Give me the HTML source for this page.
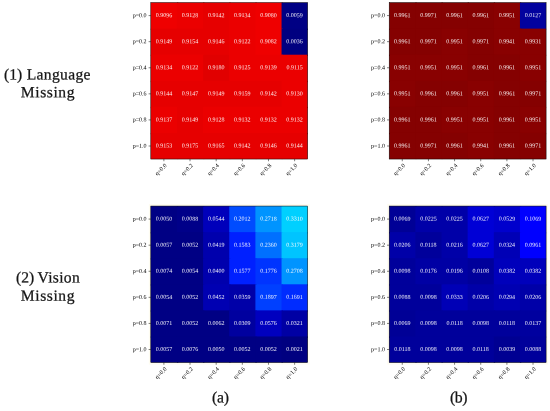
<!DOCTYPE html>
<html><head><meta charset="utf-8"><title>figure</title>
<style>
html,body{margin:0;padding:0;background:#fff;}
svg{display:block;}
svg text{font-family:"Liberation Serif","DejaVu Serif",serif;text-rendering:geometricPrecision;}
</style></head>
<body>
<svg width="550" height="411" viewBox="0 0 550 411" font-family="'Liberation Serif','DejaVu Serif',serif" font-size="6.0">
<rect x="0" y="0" width="550" height="411" fill="#fff"/>
<g>
<rect x="150.80" y="2.55" width="27.45" height="27.38" fill="#ef0000"/>
<rect x="176.95" y="2.55" width="27.45" height="27.38" fill="#eb0000"/>
<rect x="203.10" y="2.55" width="27.45" height="27.38" fill="#e60000"/>
<rect x="229.25" y="2.55" width="27.45" height="27.38" fill="#eb0000"/>
<rect x="255.40" y="2.55" width="27.45" height="27.38" fill="#ef0000"/>
<rect x="281.55" y="2.55" width="26.15" height="27.38" fill="#000084"/>
<rect x="150.80" y="28.63" width="27.45" height="27.38" fill="#e60000"/>
<rect x="176.95" y="28.63" width="27.45" height="27.38" fill="#e60000"/>
<rect x="203.10" y="28.63" width="27.45" height="27.38" fill="#e60000"/>
<rect x="229.25" y="28.63" width="27.45" height="27.38" fill="#eb0000"/>
<rect x="255.40" y="28.63" width="27.45" height="27.38" fill="#ef0000"/>
<rect x="281.55" y="28.63" width="26.15" height="27.38" fill="#000080"/>
<rect x="150.80" y="54.72" width="27.45" height="27.38" fill="#eb0000"/>
<rect x="176.95" y="54.72" width="27.45" height="27.38" fill="#eb0000"/>
<rect x="203.10" y="54.72" width="27.45" height="27.38" fill="#e10000"/>
<rect x="229.25" y="54.72" width="27.45" height="27.38" fill="#eb0000"/>
<rect x="255.40" y="54.72" width="27.45" height="27.38" fill="#eb0000"/>
<rect x="281.55" y="54.72" width="26.15" height="27.38" fill="#eb0000"/>
<rect x="150.80" y="80.80" width="27.45" height="27.38" fill="#e60000"/>
<rect x="176.95" y="80.80" width="27.45" height="27.38" fill="#e60000"/>
<rect x="203.10" y="80.80" width="27.45" height="27.38" fill="#e60000"/>
<rect x="229.25" y="80.80" width="27.45" height="27.38" fill="#e60000"/>
<rect x="255.40" y="80.80" width="27.45" height="27.38" fill="#e60000"/>
<rect x="281.55" y="80.80" width="26.15" height="27.38" fill="#eb0000"/>
<rect x="150.80" y="106.88" width="27.45" height="27.38" fill="#eb0000"/>
<rect x="176.95" y="106.88" width="27.45" height="27.38" fill="#e60000"/>
<rect x="203.10" y="106.88" width="27.45" height="27.38" fill="#eb0000"/>
<rect x="229.25" y="106.88" width="27.45" height="27.38" fill="#eb0000"/>
<rect x="255.40" y="106.88" width="27.45" height="27.38" fill="#eb0000"/>
<rect x="281.55" y="106.88" width="26.15" height="27.38" fill="#eb0000"/>
<rect x="150.80" y="132.97" width="27.45" height="26.08" fill="#e60000"/>
<rect x="176.95" y="132.97" width="27.45" height="26.08" fill="#e60000"/>
<rect x="203.10" y="132.97" width="27.45" height="26.08" fill="#e60000"/>
<rect x="229.25" y="132.97" width="27.45" height="26.08" fill="#e60000"/>
<rect x="255.40" y="132.97" width="27.45" height="26.08" fill="#e60000"/>
<rect x="281.55" y="132.97" width="26.15" height="26.08" fill="#e60000"/>
<rect x="150.80" y="2.55" width="156.90" height="156.50" fill="none" stroke="#000" stroke-width="0.5"/>
<line x1="148.60" y1="15.59" x2="150.80" y2="15.59" stroke="#000" stroke-width="0.5"/>
<line x1="163.88" y1="159.05" x2="163.88" y2="161.25" stroke="#000" stroke-width="0.5"/>
<line x1="148.60" y1="41.67" x2="150.80" y2="41.67" stroke="#000" stroke-width="0.5"/>
<line x1="190.03" y1="159.05" x2="190.03" y2="161.25" stroke="#000" stroke-width="0.5"/>
<line x1="148.60" y1="67.76" x2="150.80" y2="67.76" stroke="#000" stroke-width="0.5"/>
<line x1="216.18" y1="159.05" x2="216.18" y2="161.25" stroke="#000" stroke-width="0.5"/>
<line x1="148.60" y1="93.84" x2="150.80" y2="93.84" stroke="#000" stroke-width="0.5"/>
<line x1="242.33" y1="159.05" x2="242.33" y2="161.25" stroke="#000" stroke-width="0.5"/>
<line x1="148.60" y1="119.92" x2="150.80" y2="119.92" stroke="#000" stroke-width="0.5"/>
<line x1="268.48" y1="159.05" x2="268.48" y2="161.25" stroke="#000" stroke-width="0.5"/>
<line x1="148.60" y1="146.01" x2="150.80" y2="146.01" stroke="#000" stroke-width="0.5"/>
<line x1="294.62" y1="159.05" x2="294.62" y2="161.25" stroke="#000" stroke-width="0.5"/>
<g fill="#fff" fill-opacity=".92" text-anchor="middle">
<text transform="rotate(.03 163.88 17.14)" x="163.88" y="17.14">0.9096</text>
<text transform="rotate(.03 190.03 17.14)" x="190.03" y="17.14">0.9128</text>
<text transform="rotate(.03 216.18 17.14)" x="216.18" y="17.14">0.9142</text>
<text transform="rotate(.03 242.33 17.14)" x="242.33" y="17.14">0.9134</text>
<text transform="rotate(.03 268.48 17.14)" x="268.48" y="17.14">0.9080</text>
<text transform="rotate(.03 294.62 17.14)" x="294.62" y="17.14">0.0059</text>
<text transform="rotate(.03 163.88 43.22)" x="163.88" y="43.22">0.9149</text>
<text transform="rotate(.03 190.03 43.22)" x="190.03" y="43.22">0.9154</text>
<text transform="rotate(.03 216.18 43.22)" x="216.18" y="43.22">0.9146</text>
<text transform="rotate(.03 242.33 43.22)" x="242.33" y="43.22">0.9122</text>
<text transform="rotate(.03 268.48 43.22)" x="268.48" y="43.22">0.9082</text>
<text transform="rotate(.03 294.62 43.22)" x="294.62" y="43.22">0.0036</text>
<text transform="rotate(.03 163.88 69.31)" x="163.88" y="69.31">0.9134</text>
<text transform="rotate(.03 190.03 69.31)" x="190.03" y="69.31">0.9122</text>
<text transform="rotate(.03 216.18 69.31)" x="216.18" y="69.31">0.9180</text>
<text transform="rotate(.03 242.33 69.31)" x="242.33" y="69.31">0.9125</text>
<text transform="rotate(.03 268.48 69.31)" x="268.48" y="69.31">0.9139</text>
<text transform="rotate(.03 294.62 69.31)" x="294.62" y="69.31">0.9115</text>
<text transform="rotate(.03 163.88 95.39)" x="163.88" y="95.39">0.9144</text>
<text transform="rotate(.03 190.03 95.39)" x="190.03" y="95.39">0.9147</text>
<text transform="rotate(.03 216.18 95.39)" x="216.18" y="95.39">0.9149</text>
<text transform="rotate(.03 242.33 95.39)" x="242.33" y="95.39">0.9159</text>
<text transform="rotate(.03 268.48 95.39)" x="268.48" y="95.39">0.9142</text>
<text transform="rotate(.03 294.62 95.39)" x="294.62" y="95.39">0.9130</text>
<text transform="rotate(.03 163.88 121.47)" x="163.88" y="121.47">0.9137</text>
<text transform="rotate(.03 190.03 121.47)" x="190.03" y="121.47">0.9149</text>
<text transform="rotate(.03 216.18 121.47)" x="216.18" y="121.47">0.9128</text>
<text transform="rotate(.03 242.33 121.47)" x="242.33" y="121.47">0.9132</text>
<text transform="rotate(.03 268.48 121.47)" x="268.48" y="121.47">0.9132</text>
<text transform="rotate(.03 294.62 121.47)" x="294.62" y="121.47">0.9132</text>
<text transform="rotate(.03 163.88 147.56)" x="163.88" y="147.56">0.9153</text>
<text transform="rotate(.03 190.03 147.56)" x="190.03" y="147.56">0.9175</text>
<text transform="rotate(.03 216.18 147.56)" x="216.18" y="147.56">0.9165</text>
<text transform="rotate(.03 242.33 147.56)" x="242.33" y="147.56">0.9142</text>
<text transform="rotate(.03 268.48 147.56)" x="268.48" y="147.56">0.9146</text>
<text transform="rotate(.03 294.62 147.56)" x="294.62" y="147.56">0.9144</text>
</g>
<g fill="#000" text-anchor="end">
<text transform="rotate(.03 146.60 17.29)" x="146.60" y="17.29">p=0.0</text>
<text transform="rotate(.03 146.60 43.38)" x="146.60" y="43.38">p=0.2</text>
<text transform="rotate(.03 146.60 69.46)" x="146.60" y="69.46">p=0.4</text>
<text transform="rotate(.03 146.60 95.54)" x="146.60" y="95.54">p=0.6</text>
<text transform="rotate(.03 146.60 121.62)" x="146.60" y="121.62">p=0.8</text>
<text transform="rotate(.03 146.60 147.71)" x="146.60" y="147.71">p=1.0</text>
</g>
<g fill="#000" text-anchor="middle">
<text transform="translate(160.82,169.45) rotate(-45)" x="0" y="2">q=0.0</text>
<text transform="translate(186.97,169.45) rotate(-45)" x="0" y="2">q=0.2</text>
<text transform="translate(213.12,169.45) rotate(-45)" x="0" y="2">q=0.4</text>
<text transform="translate(239.28,169.45) rotate(-45)" x="0" y="2">q=0.6</text>
<text transform="translate(265.43,169.45) rotate(-45)" x="0" y="2">q=0.8</text>
<text transform="translate(291.57,169.45) rotate(-45)" x="0" y="2">q=1.0</text>
</g>
</g>
<g>
<rect x="389.20" y="2.55" width="27.45" height="27.38" fill="#850101"/>
<rect x="415.35" y="2.55" width="27.45" height="27.38" fill="#850101"/>
<rect x="441.50" y="2.55" width="27.45" height="27.38" fill="#850101"/>
<rect x="467.65" y="2.55" width="27.45" height="27.38" fill="#850101"/>
<rect x="493.80" y="2.55" width="27.45" height="27.38" fill="#890101"/>
<rect x="519.95" y="2.55" width="26.15" height="27.38" fill="#02029e"/>
<rect x="389.20" y="28.63" width="27.45" height="27.38" fill="#850101"/>
<rect x="415.35" y="28.63" width="27.45" height="27.38" fill="#850101"/>
<rect x="441.50" y="28.63" width="27.45" height="27.38" fill="#890101"/>
<rect x="467.65" y="28.63" width="27.45" height="27.38" fill="#850101"/>
<rect x="493.80" y="28.63" width="27.45" height="27.38" fill="#890101"/>
<rect x="519.95" y="28.63" width="26.15" height="27.38" fill="#890101"/>
<rect x="389.20" y="54.72" width="27.45" height="27.38" fill="#890101"/>
<rect x="415.35" y="54.72" width="27.45" height="27.38" fill="#890101"/>
<rect x="441.50" y="54.72" width="27.45" height="27.38" fill="#890101"/>
<rect x="467.65" y="54.72" width="27.45" height="27.38" fill="#850101"/>
<rect x="493.80" y="54.72" width="27.45" height="27.38" fill="#850101"/>
<rect x="519.95" y="54.72" width="26.15" height="27.38" fill="#890101"/>
<rect x="389.20" y="80.80" width="27.45" height="27.38" fill="#890101"/>
<rect x="415.35" y="80.80" width="27.45" height="27.38" fill="#850101"/>
<rect x="441.50" y="80.80" width="27.45" height="27.38" fill="#850101"/>
<rect x="467.65" y="80.80" width="27.45" height="27.38" fill="#890101"/>
<rect x="493.80" y="80.80" width="27.45" height="27.38" fill="#850101"/>
<rect x="519.95" y="80.80" width="26.15" height="27.38" fill="#850101"/>
<rect x="389.20" y="106.88" width="27.45" height="27.38" fill="#850101"/>
<rect x="415.35" y="106.88" width="27.45" height="27.38" fill="#850101"/>
<rect x="441.50" y="106.88" width="27.45" height="27.38" fill="#890101"/>
<rect x="467.65" y="106.88" width="27.45" height="27.38" fill="#890101"/>
<rect x="493.80" y="106.88" width="27.45" height="27.38" fill="#850101"/>
<rect x="519.95" y="106.88" width="26.15" height="27.38" fill="#890101"/>
<rect x="389.20" y="132.97" width="27.45" height="26.08" fill="#850101"/>
<rect x="415.35" y="132.97" width="27.45" height="26.08" fill="#850101"/>
<rect x="441.50" y="132.97" width="27.45" height="26.08" fill="#850101"/>
<rect x="467.65" y="132.97" width="27.45" height="26.08" fill="#890101"/>
<rect x="493.80" y="132.97" width="27.45" height="26.08" fill="#850101"/>
<rect x="519.95" y="132.97" width="26.15" height="26.08" fill="#850101"/>
<rect x="389.20" y="2.55" width="156.90" height="156.50" fill="none" stroke="#000" stroke-width="0.5"/>
<line x1="387.00" y1="15.59" x2="389.20" y2="15.59" stroke="#000" stroke-width="0.5"/>
<line x1="402.27" y1="159.05" x2="402.27" y2="161.25" stroke="#000" stroke-width="0.5"/>
<line x1="387.00" y1="41.67" x2="389.20" y2="41.67" stroke="#000" stroke-width="0.5"/>
<line x1="428.43" y1="159.05" x2="428.43" y2="161.25" stroke="#000" stroke-width="0.5"/>
<line x1="387.00" y1="67.76" x2="389.20" y2="67.76" stroke="#000" stroke-width="0.5"/>
<line x1="454.57" y1="159.05" x2="454.57" y2="161.25" stroke="#000" stroke-width="0.5"/>
<line x1="387.00" y1="93.84" x2="389.20" y2="93.84" stroke="#000" stroke-width="0.5"/>
<line x1="480.73" y1="159.05" x2="480.73" y2="161.25" stroke="#000" stroke-width="0.5"/>
<line x1="387.00" y1="119.92" x2="389.20" y2="119.92" stroke="#000" stroke-width="0.5"/>
<line x1="506.88" y1="159.05" x2="506.88" y2="161.25" stroke="#000" stroke-width="0.5"/>
<line x1="387.00" y1="146.01" x2="389.20" y2="146.01" stroke="#000" stroke-width="0.5"/>
<line x1="533.02" y1="159.05" x2="533.02" y2="161.25" stroke="#000" stroke-width="0.5"/>
<g fill="#fff" fill-opacity=".92" text-anchor="middle">
<text transform="rotate(.03 402.27 17.14)" x="402.27" y="17.14">0.9961</text>
<text transform="rotate(.03 428.43 17.14)" x="428.43" y="17.14">0.9971</text>
<text transform="rotate(.03 454.57 17.14)" x="454.57" y="17.14">0.9961</text>
<text transform="rotate(.03 480.73 17.14)" x="480.73" y="17.14">0.9961</text>
<text transform="rotate(.03 506.88 17.14)" x="506.88" y="17.14">0.9951</text>
<text transform="rotate(.03 533.02 17.14)" x="533.02" y="17.14">0.0127</text>
<text transform="rotate(.03 402.27 43.22)" x="402.27" y="43.22">0.9961</text>
<text transform="rotate(.03 428.43 43.22)" x="428.43" y="43.22">0.9971</text>
<text transform="rotate(.03 454.57 43.22)" x="454.57" y="43.22">0.9951</text>
<text transform="rotate(.03 480.73 43.22)" x="480.73" y="43.22">0.9971</text>
<text transform="rotate(.03 506.88 43.22)" x="506.88" y="43.22">0.9941</text>
<text transform="rotate(.03 533.02 43.22)" x="533.02" y="43.22">0.9931</text>
<text transform="rotate(.03 402.27 69.31)" x="402.27" y="69.31">0.9951</text>
<text transform="rotate(.03 428.43 69.31)" x="428.43" y="69.31">0.9951</text>
<text transform="rotate(.03 454.57 69.31)" x="454.57" y="69.31">0.9951</text>
<text transform="rotate(.03 480.73 69.31)" x="480.73" y="69.31">0.9961</text>
<text transform="rotate(.03 506.88 69.31)" x="506.88" y="69.31">0.9961</text>
<text transform="rotate(.03 533.02 69.31)" x="533.02" y="69.31">0.9951</text>
<text transform="rotate(.03 402.27 95.39)" x="402.27" y="95.39">0.9951</text>
<text transform="rotate(.03 428.43 95.39)" x="428.43" y="95.39">0.9961</text>
<text transform="rotate(.03 454.57 95.39)" x="454.57" y="95.39">0.9961</text>
<text transform="rotate(.03 480.73 95.39)" x="480.73" y="95.39">0.9951</text>
<text transform="rotate(.03 506.88 95.39)" x="506.88" y="95.39">0.9961</text>
<text transform="rotate(.03 533.02 95.39)" x="533.02" y="95.39">0.9971</text>
<text transform="rotate(.03 402.27 121.47)" x="402.27" y="121.47">0.9961</text>
<text transform="rotate(.03 428.43 121.47)" x="428.43" y="121.47">0.9961</text>
<text transform="rotate(.03 454.57 121.47)" x="454.57" y="121.47">0.9951</text>
<text transform="rotate(.03 480.73 121.47)" x="480.73" y="121.47">0.9951</text>
<text transform="rotate(.03 506.88 121.47)" x="506.88" y="121.47">0.9961</text>
<text transform="rotate(.03 533.02 121.47)" x="533.02" y="121.47">0.9951</text>
<text transform="rotate(.03 402.27 147.56)" x="402.27" y="147.56">0.9961</text>
<text transform="rotate(.03 428.43 147.56)" x="428.43" y="147.56">0.9971</text>
<text transform="rotate(.03 454.57 147.56)" x="454.57" y="147.56">0.9961</text>
<text transform="rotate(.03 480.73 147.56)" x="480.73" y="147.56">0.9941</text>
<text transform="rotate(.03 506.88 147.56)" x="506.88" y="147.56">0.9961</text>
<text transform="rotate(.03 533.02 147.56)" x="533.02" y="147.56">0.9971</text>
</g>
<g fill="#000" text-anchor="end">
<text transform="rotate(.03 385.00 17.29)" x="385.00" y="17.29">p=0.0</text>
<text transform="rotate(.03 385.00 43.38)" x="385.00" y="43.38">p=0.2</text>
<text transform="rotate(.03 385.00 69.46)" x="385.00" y="69.46">p=0.4</text>
<text transform="rotate(.03 385.00 95.54)" x="385.00" y="95.54">p=0.6</text>
<text transform="rotate(.03 385.00 121.62)" x="385.00" y="121.62">p=0.8</text>
<text transform="rotate(.03 385.00 147.71)" x="385.00" y="147.71">p=1.0</text>
</g>
<g fill="#000" text-anchor="middle">
<text transform="translate(399.22,169.45) rotate(-45)" x="0" y="2">q=0.0</text>
<text transform="translate(425.38,169.45) rotate(-45)" x="0" y="2">q=0.2</text>
<text transform="translate(451.52,169.45) rotate(-45)" x="0" y="2">q=0.4</text>
<text transform="translate(477.68,169.45) rotate(-45)" x="0" y="2">q=0.6</text>
<text transform="translate(503.82,169.45) rotate(-45)" x="0" y="2">q=0.8</text>
<text transform="translate(529.98,169.45) rotate(-45)" x="0" y="2">q=1.0</text>
</g>
</g>
<g>
<rect x="148.80" y="204.05" width="160.90" height="160.50" fill="#fefcf1"/>
<rect x="150.80" y="206.05" width="27.45" height="27.38" fill="#000084"/>
<rect x="176.95" y="206.05" width="27.45" height="27.38" fill="#000089"/>
<rect x="203.10" y="206.05" width="27.45" height="27.38" fill="#0000bb"/>
<rect x="229.25" y="206.05" width="27.45" height="27.38" fill="#004cff"/>
<rect x="255.40" y="206.05" width="27.45" height="27.38" fill="#0094ff"/>
<rect x="281.55" y="206.05" width="26.15" height="27.38" fill="#00d0ff"/>
<rect x="150.80" y="232.13" width="27.45" height="27.38" fill="#000084"/>
<rect x="176.95" y="232.13" width="27.45" height="27.38" fill="#000084"/>
<rect x="203.10" y="232.13" width="27.45" height="27.38" fill="#0000ad"/>
<rect x="229.25" y="232.13" width="27.45" height="27.38" fill="#0020ff"/>
<rect x="255.40" y="232.13" width="27.45" height="27.38" fill="#0070ff"/>
<rect x="281.55" y="232.13" width="26.15" height="27.38" fill="#00c4ff"/>
<rect x="150.80" y="258.22" width="27.45" height="27.38" fill="#000084"/>
<rect x="176.95" y="258.22" width="27.45" height="27.38" fill="#000084"/>
<rect x="203.10" y="258.22" width="27.45" height="27.38" fill="#0000ad"/>
<rect x="229.25" y="258.22" width="27.45" height="27.38" fill="#0020ff"/>
<rect x="255.40" y="258.22" width="27.45" height="27.38" fill="#0034ff"/>
<rect x="281.55" y="258.22" width="26.15" height="27.38" fill="#0094ff"/>
<rect x="150.80" y="284.30" width="27.45" height="27.38" fill="#000084"/>
<rect x="176.95" y="284.30" width="27.45" height="27.38" fill="#000084"/>
<rect x="203.10" y="284.30" width="27.45" height="27.38" fill="#0000b2"/>
<rect x="229.25" y="284.30" width="27.45" height="27.38" fill="#0000a8"/>
<rect x="255.40" y="284.30" width="27.45" height="27.38" fill="#0040ff"/>
<rect x="281.55" y="284.30" width="26.15" height="27.38" fill="#002cff"/>
<rect x="150.80" y="310.38" width="27.45" height="27.38" fill="#000084"/>
<rect x="176.95" y="310.38" width="27.45" height="27.38" fill="#000084"/>
<rect x="203.10" y="310.38" width="27.45" height="27.38" fill="#000084"/>
<rect x="229.25" y="310.38" width="27.45" height="27.38" fill="#00009f"/>
<rect x="255.40" y="310.38" width="27.45" height="27.38" fill="#0000bf"/>
<rect x="281.55" y="310.38" width="26.15" height="27.38" fill="#0000a4"/>
<rect x="150.80" y="336.47" width="27.45" height="26.08" fill="#000084"/>
<rect x="176.95" y="336.47" width="27.45" height="26.08" fill="#000084"/>
<rect x="203.10" y="336.47" width="27.45" height="26.08" fill="#000084"/>
<rect x="229.25" y="336.47" width="27.45" height="26.08" fill="#000084"/>
<rect x="255.40" y="336.47" width="27.45" height="26.08" fill="#000084"/>
<rect x="281.55" y="336.47" width="26.15" height="26.08" fill="#000080"/>
<rect x="150.80" y="206.05" width="156.90" height="156.50" fill="none" stroke="#000" stroke-width="0.5"/>
<line x1="148.60" y1="219.09" x2="150.80" y2="219.09" stroke="#000" stroke-width="0.5"/>
<line x1="163.88" y1="362.55" x2="163.88" y2="364.75" stroke="#000" stroke-width="0.5"/>
<line x1="148.60" y1="245.18" x2="150.80" y2="245.18" stroke="#000" stroke-width="0.5"/>
<line x1="190.03" y1="362.55" x2="190.03" y2="364.75" stroke="#000" stroke-width="0.5"/>
<line x1="148.60" y1="271.26" x2="150.80" y2="271.26" stroke="#000" stroke-width="0.5"/>
<line x1="216.18" y1="362.55" x2="216.18" y2="364.75" stroke="#000" stroke-width="0.5"/>
<line x1="148.60" y1="297.34" x2="150.80" y2="297.34" stroke="#000" stroke-width="0.5"/>
<line x1="242.33" y1="362.55" x2="242.33" y2="364.75" stroke="#000" stroke-width="0.5"/>
<line x1="148.60" y1="323.43" x2="150.80" y2="323.43" stroke="#000" stroke-width="0.5"/>
<line x1="268.48" y1="362.55" x2="268.48" y2="364.75" stroke="#000" stroke-width="0.5"/>
<line x1="148.60" y1="349.51" x2="150.80" y2="349.51" stroke="#000" stroke-width="0.5"/>
<line x1="294.62" y1="362.55" x2="294.62" y2="364.75" stroke="#000" stroke-width="0.5"/>
<g fill="#fff" fill-opacity=".92" text-anchor="middle">
<text transform="rotate(.03 163.88 220.64)" x="163.88" y="220.64">0.0050</text>
<text transform="rotate(.03 190.03 220.64)" x="190.03" y="220.64">0.0088</text>
<text transform="rotate(.03 216.18 220.64)" x="216.18" y="220.64">0.0544</text>
<text transform="rotate(.03 242.33 220.64)" x="242.33" y="220.64">0.2012</text>
<text transform="rotate(.03 268.48 220.64)" x="268.48" y="220.64">0.2718</text>
<text transform="rotate(.03 294.62 220.64)" x="294.62" y="220.64">0.3310</text>
<text transform="rotate(.03 163.88 246.73)" x="163.88" y="246.73">0.0057</text>
<text transform="rotate(.03 190.03 246.73)" x="190.03" y="246.73">0.0052</text>
<text transform="rotate(.03 216.18 246.73)" x="216.18" y="246.73">0.0419</text>
<text transform="rotate(.03 242.33 246.73)" x="242.33" y="246.73">0.1583</text>
<text transform="rotate(.03 268.48 246.73)" x="268.48" y="246.73">0.2360</text>
<text transform="rotate(.03 294.62 246.73)" x="294.62" y="246.73">0.3179</text>
<text transform="rotate(.03 163.88 272.81)" x="163.88" y="272.81">0.0074</text>
<text transform="rotate(.03 190.03 272.81)" x="190.03" y="272.81">0.0054</text>
<text transform="rotate(.03 216.18 272.81)" x="216.18" y="272.81">0.0400</text>
<text transform="rotate(.03 242.33 272.81)" x="242.33" y="272.81">0.1577</text>
<text transform="rotate(.03 268.48 272.81)" x="268.48" y="272.81">0.1776</text>
<text transform="rotate(.03 294.62 272.81)" x="294.62" y="272.81">0.2708</text>
<text transform="rotate(.03 163.88 298.89)" x="163.88" y="298.89">0.0054</text>
<text transform="rotate(.03 190.03 298.89)" x="190.03" y="298.89">0.0052</text>
<text transform="rotate(.03 216.18 298.89)" x="216.18" y="298.89">0.0452</text>
<text transform="rotate(.03 242.33 298.89)" x="242.33" y="298.89">0.0359</text>
<text transform="rotate(.03 268.48 298.89)" x="268.48" y="298.89">0.1897</text>
<text transform="rotate(.03 294.62 298.89)" x="294.62" y="298.89">0.1691</text>
<text transform="rotate(.03 163.88 324.98)" x="163.88" y="324.98">0.0071</text>
<text transform="rotate(.03 190.03 324.98)" x="190.03" y="324.98">0.0052</text>
<text transform="rotate(.03 216.18 324.98)" x="216.18" y="324.98">0.0062</text>
<text transform="rotate(.03 242.33 324.98)" x="242.33" y="324.98">0.0309</text>
<text transform="rotate(.03 268.48 324.98)" x="268.48" y="324.98">0.0576</text>
<text transform="rotate(.03 294.62 324.98)" x="294.62" y="324.98">0.0321</text>
<text transform="rotate(.03 163.88 351.06)" x="163.88" y="351.06">0.0057</text>
<text transform="rotate(.03 190.03 351.06)" x="190.03" y="351.06">0.0076</text>
<text transform="rotate(.03 216.18 351.06)" x="216.18" y="351.06">0.0050</text>
<text transform="rotate(.03 242.33 351.06)" x="242.33" y="351.06">0.0052</text>
<text transform="rotate(.03 268.48 351.06)" x="268.48" y="351.06">0.0052</text>
<text transform="rotate(.03 294.62 351.06)" x="294.62" y="351.06">0.0021</text>
</g>
<g fill="#000" text-anchor="end">
<text transform="rotate(.03 146.60 220.79)" x="146.60" y="220.79">p=0.0</text>
<text transform="rotate(.03 146.60 246.88)" x="146.60" y="246.88">p=0.2</text>
<text transform="rotate(.03 146.60 272.96)" x="146.60" y="272.96">p=0.4</text>
<text transform="rotate(.03 146.60 299.04)" x="146.60" y="299.04">p=0.6</text>
<text transform="rotate(.03 146.60 325.12)" x="146.60" y="325.12">p=0.8</text>
<text transform="rotate(.03 146.60 351.21)" x="146.60" y="351.21">p=1.0</text>
</g>
<g fill="#000" text-anchor="middle">
<text transform="translate(160.82,372.95) rotate(-45)" x="0" y="2">q=0.0</text>
<text transform="translate(186.97,372.95) rotate(-45)" x="0" y="2">q=0.2</text>
<text transform="translate(213.12,372.95) rotate(-45)" x="0" y="2">q=0.4</text>
<text transform="translate(239.28,372.95) rotate(-45)" x="0" y="2">q=0.6</text>
<text transform="translate(265.43,372.95) rotate(-45)" x="0" y="2">q=0.8</text>
<text transform="translate(291.57,372.95) rotate(-45)" x="0" y="2">q=1.0</text>
</g>
</g>
<g>
<rect x="387.20" y="204.05" width="160.90" height="160.50" fill="#fefcf1"/>
<rect x="389.20" y="206.05" width="27.45" height="27.38" fill="#000096"/>
<rect x="415.35" y="206.05" width="27.45" height="27.38" fill="#0000a8"/>
<rect x="441.50" y="206.05" width="27.45" height="27.38" fill="#0000a8"/>
<rect x="467.65" y="206.05" width="27.45" height="27.38" fill="#0000d6"/>
<rect x="493.80" y="206.05" width="27.45" height="27.38" fill="#0000cd"/>
<rect x="519.95" y="206.05" width="26.15" height="27.38" fill="#0000ff"/>
<rect x="389.20" y="232.13" width="27.45" height="27.38" fill="#0000a8"/>
<rect x="415.35" y="232.13" width="27.45" height="27.38" fill="#00009b"/>
<rect x="441.50" y="232.13" width="27.45" height="27.38" fill="#0000a8"/>
<rect x="467.65" y="232.13" width="27.45" height="27.38" fill="#0000d6"/>
<rect x="493.80" y="232.13" width="27.45" height="27.38" fill="#0000b6"/>
<rect x="519.95" y="232.13" width="26.15" height="27.38" fill="#0000ff"/>
<rect x="389.20" y="258.22" width="27.45" height="27.38" fill="#00009b"/>
<rect x="415.35" y="258.22" width="27.45" height="27.38" fill="#0000a4"/>
<rect x="441.50" y="258.22" width="27.45" height="27.38" fill="#0000a4"/>
<rect x="467.65" y="258.22" width="27.45" height="27.38" fill="#00009b"/>
<rect x="493.80" y="258.22" width="27.45" height="27.38" fill="#0000bb"/>
<rect x="519.95" y="258.22" width="26.15" height="27.38" fill="#0000bb"/>
<rect x="389.20" y="284.30" width="27.45" height="27.38" fill="#00009b"/>
<rect x="415.35" y="284.30" width="27.45" height="27.38" fill="#00009b"/>
<rect x="441.50" y="284.30" width="27.45" height="27.38" fill="#0000b6"/>
<rect x="467.65" y="284.30" width="27.45" height="27.38" fill="#0000a8"/>
<rect x="493.80" y="284.30" width="27.45" height="27.38" fill="#0000b2"/>
<rect x="519.95" y="284.30" width="26.15" height="27.38" fill="#0000a8"/>
<rect x="389.20" y="310.38" width="27.45" height="27.38" fill="#000096"/>
<rect x="415.35" y="310.38" width="27.45" height="27.38" fill="#00009b"/>
<rect x="441.50" y="310.38" width="27.45" height="27.38" fill="#00009b"/>
<rect x="467.65" y="310.38" width="27.45" height="27.38" fill="#00009b"/>
<rect x="493.80" y="310.38" width="27.45" height="27.38" fill="#00009b"/>
<rect x="519.95" y="310.38" width="26.15" height="27.38" fill="#00009f"/>
<rect x="389.20" y="336.47" width="27.45" height="26.08" fill="#00009b"/>
<rect x="415.35" y="336.47" width="27.45" height="26.08" fill="#00009b"/>
<rect x="441.50" y="336.47" width="27.45" height="26.08" fill="#00009b"/>
<rect x="467.65" y="336.47" width="27.45" height="26.08" fill="#00009b"/>
<rect x="493.80" y="336.47" width="27.45" height="26.08" fill="#000092"/>
<rect x="519.95" y="336.47" width="26.15" height="26.08" fill="#00009b"/>
<rect x="389.20" y="206.05" width="156.90" height="156.50" fill="none" stroke="#000" stroke-width="0.5"/>
<line x1="387.00" y1="219.09" x2="389.20" y2="219.09" stroke="#000" stroke-width="0.5"/>
<line x1="402.27" y1="362.55" x2="402.27" y2="364.75" stroke="#000" stroke-width="0.5"/>
<line x1="387.00" y1="245.18" x2="389.20" y2="245.18" stroke="#000" stroke-width="0.5"/>
<line x1="428.43" y1="362.55" x2="428.43" y2="364.75" stroke="#000" stroke-width="0.5"/>
<line x1="387.00" y1="271.26" x2="389.20" y2="271.26" stroke="#000" stroke-width="0.5"/>
<line x1="454.57" y1="362.55" x2="454.57" y2="364.75" stroke="#000" stroke-width="0.5"/>
<line x1="387.00" y1="297.34" x2="389.20" y2="297.34" stroke="#000" stroke-width="0.5"/>
<line x1="480.73" y1="362.55" x2="480.73" y2="364.75" stroke="#000" stroke-width="0.5"/>
<line x1="387.00" y1="323.43" x2="389.20" y2="323.43" stroke="#000" stroke-width="0.5"/>
<line x1="506.88" y1="362.55" x2="506.88" y2="364.75" stroke="#000" stroke-width="0.5"/>
<line x1="387.00" y1="349.51" x2="389.20" y2="349.51" stroke="#000" stroke-width="0.5"/>
<line x1="533.02" y1="362.55" x2="533.02" y2="364.75" stroke="#000" stroke-width="0.5"/>
<g fill="#fff" fill-opacity=".92" text-anchor="middle">
<text transform="rotate(.03 402.27 220.64)" x="402.27" y="220.64">0.0069</text>
<text transform="rotate(.03 428.43 220.64)" x="428.43" y="220.64">0.0225</text>
<text transform="rotate(.03 454.57 220.64)" x="454.57" y="220.64">0.0225</text>
<text transform="rotate(.03 480.73 220.64)" x="480.73" y="220.64">0.0627</text>
<text transform="rotate(.03 506.88 220.64)" x="506.88" y="220.64">0.0529</text>
<text transform="rotate(.03 533.02 220.64)" x="533.02" y="220.64">0.1069</text>
<text transform="rotate(.03 402.27 246.73)" x="402.27" y="246.73">0.0206</text>
<text transform="rotate(.03 428.43 246.73)" x="428.43" y="246.73">0.0118</text>
<text transform="rotate(.03 454.57 246.73)" x="454.57" y="246.73">0.0216</text>
<text transform="rotate(.03 480.73 246.73)" x="480.73" y="246.73">0.0627</text>
<text transform="rotate(.03 506.88 246.73)" x="506.88" y="246.73">0.0324</text>
<text transform="rotate(.03 533.02 246.73)" x="533.02" y="246.73">0.0961</text>
<text transform="rotate(.03 402.27 272.81)" x="402.27" y="272.81">0.0098</text>
<text transform="rotate(.03 428.43 272.81)" x="428.43" y="272.81">0.0176</text>
<text transform="rotate(.03 454.57 272.81)" x="454.57" y="272.81">0.0196</text>
<text transform="rotate(.03 480.73 272.81)" x="480.73" y="272.81">0.0108</text>
<text transform="rotate(.03 506.88 272.81)" x="506.88" y="272.81">0.0382</text>
<text transform="rotate(.03 533.02 272.81)" x="533.02" y="272.81">0.0382</text>
<text transform="rotate(.03 402.27 298.89)" x="402.27" y="298.89">0.0088</text>
<text transform="rotate(.03 428.43 298.89)" x="428.43" y="298.89">0.0098</text>
<text transform="rotate(.03 454.57 298.89)" x="454.57" y="298.89">0.0333</text>
<text transform="rotate(.03 480.73 298.89)" x="480.73" y="298.89">0.0206</text>
<text transform="rotate(.03 506.88 298.89)" x="506.88" y="298.89">0.0294</text>
<text transform="rotate(.03 533.02 298.89)" x="533.02" y="298.89">0.0206</text>
<text transform="rotate(.03 402.27 324.98)" x="402.27" y="324.98">0.0069</text>
<text transform="rotate(.03 428.43 324.98)" x="428.43" y="324.98">0.0098</text>
<text transform="rotate(.03 454.57 324.98)" x="454.57" y="324.98">0.0118</text>
<text transform="rotate(.03 480.73 324.98)" x="480.73" y="324.98">0.0098</text>
<text transform="rotate(.03 506.88 324.98)" x="506.88" y="324.98">0.0118</text>
<text transform="rotate(.03 533.02 324.98)" x="533.02" y="324.98">0.0137</text>
<text transform="rotate(.03 402.27 351.06)" x="402.27" y="351.06">0.0118</text>
<text transform="rotate(.03 428.43 351.06)" x="428.43" y="351.06">0.0098</text>
<text transform="rotate(.03 454.57 351.06)" x="454.57" y="351.06">0.0098</text>
<text transform="rotate(.03 480.73 351.06)" x="480.73" y="351.06">0.0118</text>
<text transform="rotate(.03 506.88 351.06)" x="506.88" y="351.06">0.0039</text>
<text transform="rotate(.03 533.02 351.06)" x="533.02" y="351.06">0.0088</text>
</g>
<g fill="#000" text-anchor="end">
<text transform="rotate(.03 385.00 220.79)" x="385.00" y="220.79">p=0.0</text>
<text transform="rotate(.03 385.00 246.88)" x="385.00" y="246.88">p=0.2</text>
<text transform="rotate(.03 385.00 272.96)" x="385.00" y="272.96">p=0.4</text>
<text transform="rotate(.03 385.00 299.04)" x="385.00" y="299.04">p=0.6</text>
<text transform="rotate(.03 385.00 325.12)" x="385.00" y="325.12">p=0.8</text>
<text transform="rotate(.03 385.00 351.21)" x="385.00" y="351.21">p=1.0</text>
</g>
<g fill="#000" text-anchor="middle">
<text transform="translate(399.22,372.95) rotate(-45)" x="0" y="2">q=0.0</text>
<text transform="translate(425.38,372.95) rotate(-45)" x="0" y="2">q=0.2</text>
<text transform="translate(451.52,372.95) rotate(-45)" x="0" y="2">q=0.4</text>
<text transform="translate(477.68,372.95) rotate(-45)" x="0" y="2">q=0.6</text>
<text transform="translate(503.82,372.95) rotate(-45)" x="0" y="2">q=0.8</text>
<text transform="translate(529.98,372.95) rotate(-45)" x="0" y="2">q=1.0</text>
</g>
</g>

<g font-size="15.6" fill="#151515" stroke="#151515" stroke-width="0.25" text-anchor="middle">
<text transform="rotate(.03 4 79.4)" x="4" y="79.4" text-anchor="start">(1) <tspan x="26.7" textLength="63.8" lengthAdjust="spacing">Language</tspan></text>
<text transform="rotate(.03 47.65 97.3)" x="47.65" y="97.3" textLength="53.7" lengthAdjust="spacing">Missing</text>
<text transform="rotate(.03 16 282.6)" x="16" y="282.6" text-anchor="start">(2) <tspan x="37.5" textLength="42.2" lengthAdjust="spacing">Vision</tspan></text>
<text transform="rotate(.03 47.65 300.8)" x="47.65" y="300.8" textLength="53.7" lengthAdjust="spacing">Missing</text>
<text transform="rotate(.03 220.5 402.4)" x="220.5" y="402.4" font-size="15.8" textLength="17.2" lengthAdjust="spacing">(a)</text>
<text transform="rotate(.03 458.8 402.4)" x="458.8" y="402.4" font-size="15.8" textLength="17.6" lengthAdjust="spacing">(b)</text>
</g>
</svg>
</body></html>
